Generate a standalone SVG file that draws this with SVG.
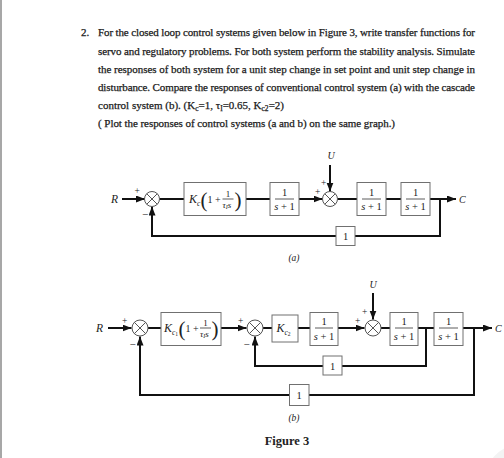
<svg xmlns="http://www.w3.org/2000/svg" width="504" height="458" viewBox="0 0 504 458">
<defs>
<style>
.t{font-family:"Liberation Serif",serif;font-size:11px;fill:#1a1a1a;stroke:#1a1a1a;stroke-width:0.25}
.blk{fill:#fff;stroke:#707070;stroke-width:1}
.ln{fill:none;stroke:#111;stroke-width:2}
.sum{fill:#fff;stroke:#555;stroke-width:1}
.x{stroke:#555;stroke-width:1}
.m{font-family:"Liberation Serif",serif;fill:#222}
.i{font-style:italic}
.fl{stroke:#333;stroke-width:0.8}
</style>
<marker id="ar" markerUnits="userSpaceOnUse" markerWidth="10" markerHeight="8" refX="9" refY="3.5" orient="auto">
<path d="M0,0 L9,3.5 L0,7 z" fill="#111"/>
</marker>
</defs>
<rect width="504" height="458" fill="#fff"/>
<line x1="1" y1="0" x2="1" y2="458" stroke="#8a8a8a" stroke-width="1.5"/>
<circle cx="525" cy="485" r="42" fill="#f3f3f3"/>

<g id="question">
<text class="t" x="81" y="36">2.</text>
<text class="t" x="98" y="36" textLength="377" lengthAdjust="spacing">For the closed loop control systems given below in Figure 3, write transfer functions for</text>
<text class="t" x="98" y="54.5" textLength="377" lengthAdjust="spacing">servo and regulatory problems. For both system perform  the stability analysis. Simulate</text>
<text class="t" x="98" y="72.5" textLength="377" lengthAdjust="spacing">the responses of both system for a unit step change in set point and unit step change in</text>
<text class="t" x="98" y="90.5" textLength="377" lengthAdjust="spacing">disturbance. Compare the responses of conventional control system (a) with the cascade</text>
<text class="t" x="98" y="108.5">control system (b). (K<tspan font-size="7.5" dy="2">c</tspan><tspan dy="-2">=1, τ</tspan><tspan font-size="7.5" dy="2">I</tspan><tspan dy="-2">=0.65, K</tspan><tspan font-size="7.5" dy="2">c2</tspan><tspan dy="-2">=2)</tspan></text>
<text class="t" x="98" y="127" textLength="297" lengthAdjust="spacing">( Plot the responses of control systems (a and b) on the same graph.)</text>
</g>

<!-- Diagram (a) connectors -->
<g id="connectors-a">
<line class="ln" x1="122" y1="199" x2="145" y2="199" marker-end="url(#ar)"/>
<line class="ln" x1="159.5" y1="199" x2="184" y2="199"/>
<line class="ln" x1="246" y1="199" x2="270" y2="199"/>
<line class="ln" x1="299" y1="199" x2="322.5" y2="199" marker-end="url(#ar)"/>
<line class="ln" x1="330" y1="165" x2="330" y2="191.5" marker-end="url(#ar)"/>
<line class="ln" x1="337.5" y1="199" x2="357" y2="199"/>
<line class="ln" x1="386" y1="199" x2="401" y2="199"/>
<line class="ln" x1="430" y1="199" x2="456" y2="199" marker-end="url(#ar)"/>
<polyline class="ln" points="440,199 440,236 152,236 152,206.5" marker-end="url(#ar)"/>
</g>

<g id="a-sum1"><circle class="sum" cx="152" cy="199" r="7.5"/><path class="x" d="M146.7,193.7 L157.3,204.3 M157.3,193.7 L146.7,204.3"/></g>
<g id="a-sum2"><circle class="sum" cx="330" cy="199" r="7.5"/><path class="x" d="M324.7,193.7 L335.3,204.3 M335.3,193.7 L324.7,204.3"/></g>

<g id="a-labels" class="m">
<text x="111" y="203" font-size="11.5" class="i">R</text>
<text x="134.5" y="194" font-size="9.5">+</text>
<text x="142" y="218" font-size="11">−</text>
<text x="331" y="159" font-size="10" class="i" text-anchor="middle">U</text>
<text x="321" y="186" font-size="9.5">+</text>
<text x="315" y="195" font-size="9.5">+</text>
<text x="459" y="203" font-size="10" class="i">C</text>
<text x="294" y="261" font-size="9.5" class="i" text-anchor="middle">(a)</text>
</g>

<g id="a-controller">
<rect class="blk" x="184" y="182.5" width="62" height="33"/>
<text class="m i" x="189" y="203" font-size="12">K</text>
<text class="m i" x="197" y="205.5" font-size="7.5">c</text>
<text class="m" x="200.5" y="206.5" font-size="21">(</text>
<text class="m" x="207.5" y="203" font-size="10">1 +</text>
<text class="m" x="228" y="196.5" font-size="9" text-anchor="middle">1</text>
<line class="fl" x1="222.5" y1="199" x2="233.5" y2="199"/>
<text class="m i" x="222.5" y="207.5" font-size="9">τ<tspan font-size="6" dy="1.5">I</tspan><tspan dy="-1.5">s</tspan></text>
<text class="m" x="234.5" y="206.5" font-size="21">)</text>
</g>

<g id="a-g1">
<rect class="blk" x="270" y="182.5" width="29" height="33"/>
<text class="m" x="284.5" y="196" font-size="10.5" text-anchor="middle">1</text>
<line class="fl" x1="275" y1="199" x2="294" y2="199"/>
<text class="m" x="284.5" y="210" font-size="10.5" text-anchor="middle"><tspan class="i">s</tspan> + 1</text>
</g>
<g id="a-g2">
<rect class="blk" x="357" y="182.5" width="29" height="33"/>
<text class="m" x="371.5" y="196" font-size="10.5" text-anchor="middle">1</text>
<line class="fl" x1="362" y1="199" x2="381" y2="199"/>
<text class="m" x="371.5" y="210" font-size="10.5" text-anchor="middle"><tspan class="i">s</tspan> + 1</text>
</g>
<g id="a-g3">
<rect class="blk" x="401" y="182.5" width="29" height="33"/>
<text class="m" x="415.5" y="196" font-size="10.5" text-anchor="middle">1</text>
<line class="fl" x1="406" y1="199" x2="425" y2="199"/>
<text class="m" x="415.5" y="210" font-size="10.5" text-anchor="middle"><tspan class="i">s</tspan> + 1</text>
</g>
<g id="a-h">
<rect class="blk" x="336" y="226.5" width="19" height="19"/>
<text class="m" x="345.5" y="240" font-size="10.5" text-anchor="middle">1</text>
</g>

<!-- Diagram (b) connectors -->
<g id="connectors-b">
<line class="ln" x1="108" y1="328" x2="131.5" y2="328" marker-end="url(#ar)"/>
<line class="ln" x1="148" y1="328" x2="161" y2="328"/>
<line class="ln" x1="221" y1="328" x2="246.5" y2="328" marker-end="url(#ar)"/>
<line class="ln" x1="263" y1="328" x2="272" y2="328"/>
<line class="ln" x1="298" y1="328" x2="310" y2="328"/>
<line class="ln" x1="338" y1="328" x2="364.5" y2="328" marker-end="url(#ar)"/>
<line class="ln" x1="373" y1="293" x2="373" y2="319.5" marker-end="url(#ar)"/>
<line class="ln" x1="381" y1="328" x2="390" y2="328"/>
<line class="ln" x1="418" y1="328" x2="434" y2="328"/>
<line class="ln" x1="463" y1="328" x2="492" y2="328" marker-end="url(#ar)"/>
<polyline class="ln" points="426,328 426,366 255,366 255,336.5" marker-end="url(#ar)"/>
<polyline class="ln" points="474,328 474,395 140,395 140,336.5" marker-end="url(#ar)"/>
</g>

<g id="b-sum1"><circle class="sum" cx="140" cy="328" r="8"/><path class="x" d="M134.3,322.3 L145.7,333.7 M145.7,322.3 L134.3,333.7"/></g>
<g id="b-sum2"><circle class="sum" cx="255" cy="328" r="8"/><path class="x" d="M249.3,322.3 L260.7,333.7 M260.7,322.3 L249.3,333.7"/></g>
<g id="b-sum3"><circle class="sum" cx="373" cy="328" r="8"/><path class="x" d="M367.3,322.3 L378.7,333.7 M378.7,322.3 L367.3,333.7"/></g>

<g id="b-labels" class="m">
<text x="96" y="332" font-size="11.5" class="i">R</text>
<text x="122" y="324" font-size="9.5">+</text>
<text x="129.5" y="348" font-size="11">−</text>
<text x="238" y="324" font-size="9.5">+</text>
<text x="243.5" y="348" font-size="11">−</text>
<text x="373" y="288" font-size="10" class="i" text-anchor="middle">U</text>
<text x="362" y="315" font-size="9.5">+</text>
<text x="355" y="324" font-size="9.5">+</text>
<text x="495" y="332" font-size="10" class="i">C</text>
<text x="294" y="421" font-size="9.5" class="i" text-anchor="middle">(b)</text>
</g>

<g id="b-controller1">
<rect class="blk" x="161" y="312.5" width="60" height="33"/>
<text class="m i" x="164" y="332" font-size="12">K</text>
<text class="m i" x="172" y="334.5" font-size="7.5">c<tspan font-size="5.5" dy="1.5" font-style="normal">1</tspan></text>
<text class="m" x="178.5" y="335.5" font-size="21">(</text>
<text class="m" x="185.5" y="332" font-size="10">1 +</text>
<text class="m" x="205.5" y="325.5" font-size="9" text-anchor="middle">1</text>
<line class="fl" x1="200" y1="328" x2="211" y2="328"/>
<text class="m i" x="200" y="336.5" font-size="9">τ<tspan font-size="6" dy="1.5">I</tspan><tspan dy="-1.5">s</tspan></text>
<text class="m" x="211.5" y="335.5" font-size="21">)</text>
</g>

<g id="b-controller2">
<rect class="blk" x="272" y="315" width="26" height="27"/>
<text class="m i" x="276.5" y="332" font-size="12">K</text>
<text class="m i" x="284.5" y="334.5" font-size="7.5">c<tspan font-size="5.5" dy="1.5" font-style="normal">2</tspan></text>
</g>

<g id="b-g1">
<rect class="blk" x="310" y="312.5" width="28" height="33"/>
<text class="m" x="324" y="325" font-size="10.5" text-anchor="middle">1</text>
<line class="fl" x1="315" y1="328" x2="333" y2="328"/>
<text class="m" x="324" y="339.5" font-size="10.5" text-anchor="middle"><tspan class="i">s</tspan> + 1</text>
</g>
<g id="b-g2">
<rect class="blk" x="390" y="312.5" width="28" height="33"/>
<text class="m" x="404" y="325" font-size="10.5" text-anchor="middle">1</text>
<line class="fl" x1="395" y1="328" x2="413" y2="328"/>
<text class="m" x="404" y="339.5" font-size="10.5" text-anchor="middle"><tspan class="i">s</tspan> + 1</text>
</g>
<g id="b-g3">
<rect class="blk" x="434" y="312.5" width="29" height="33"/>
<text class="m" x="448.5" y="325" font-size="10.5" text-anchor="middle">1</text>
<line class="fl" x1="439" y1="328" x2="458" y2="328"/>
<text class="m" x="448.5" y="339.5" font-size="10.5" text-anchor="middle"><tspan class="i">s</tspan> + 1</text>
</g>
<g id="b-h-inner">
<rect class="blk" x="323" y="356" width="19" height="19"/>
<text class="m" x="332.5" y="369.5" font-size="10.5" text-anchor="middle">1</text>
</g>
<g id="b-h-outer">
<rect class="blk" x="289.5" y="384.5" width="19.5" height="21"/>
<text class="m" x="299.2" y="399" font-size="10.5" text-anchor="middle">1</text>
</g>

<g id="caption">
<text class="m" x="287" y="445" font-size="12.5" font-weight="bold" text-anchor="middle">Figure 3</text>
</g>
</svg>
